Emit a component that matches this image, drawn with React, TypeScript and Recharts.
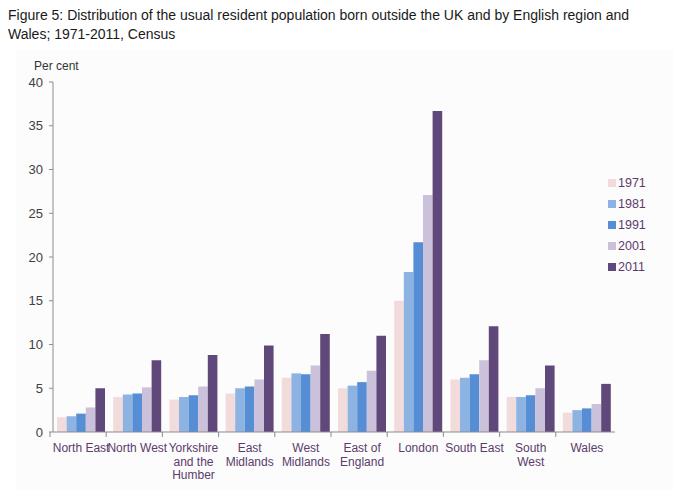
import { BarChart, Bar, XAxis, YAxis, Legend } from "recharts";

const regions = [
  "North East",
  "North West",
  "Yorkshire and the Humber",
  "East Midlands",
  "West Midlands",
  "East of England",
  "London",
  "South East",
  "South West",
  "Wales",
];

// label lines as printed under the axis
const regionLines: string[][] = [
  ["North East"],
  ["North West"],
  ["Yorkshire", "and the", "Humber"],
  ["East", "Midlands"],
  ["West", "Midlands"],
  ["East of", "England"],
  ["London"],
  ["South East"],
  ["South", "West"],
  ["Wales"],
];

const y1971 = [1.7, 4.0, 3.7, 4.4, 6.2, 5.0, 15.0, 6.0, 4.0, 2.2];
const y1981 = [1.8, 4.3, 4.0, 5.0, 6.7, 5.3, 18.3, 6.2, 4.0, 2.5];
const y1991 = [2.1, 4.4, 4.2, 5.2, 6.6, 5.7, 21.7, 6.6, 4.2, 2.7];
const y2001 = [2.8, 5.1, 5.2, 6.0, 7.6, 7.0, 27.1, 8.2, 5.0, 3.2];
const y2011 = [5.0, 8.2, 8.8, 9.9, 11.2, 11.0, 36.7, 12.1, 7.6, 5.5];

const yTicks = [0, 5, 10, 15, 20, 25, 30, 35, 40];

const series = [
  { key: "1971", color: "#f2dcdb" },
  { key: "1981", color: "#8db3e2" },
  { key: "1991", color: "#558ed5" },
  { key: "2001", color: "#ccc1da" },
  { key: "2011", color: "#60497a" },
];

const data = regions.map((r, i) => ({
  region: r,
  "1971": y1971[i],
  "1981": y1981[i],
  "1991": y1991[i],
  "2001": y2001[i],
  "2011": y2011[i],
}));

const FONT = "'Liberation Sans', Arial, sans-serif";
const LABEL_COLOR = "#5b3b6b";
const AXIS_COLOR = "#8c8c8c";
const PLOT_LEFT = 53;
const PLOT_RIGHT = 675;
const BAND = (PLOT_RIGHT - PLOT_LEFT) / regions.length;

function RegionTick(props: any) {
  const { x, y, payload, index } = props;
  const lines = regionLines[index] ?? [String(payload.value)];
  const left = x - BAND / 2;
  return (
    <g>
      <line x1={left} y1={y} x2={left} y2={y + 5} stroke={AXIS_COLOR} />
      <text
        x={x}
        y={y + 20}
        textAnchor="middle"
        fill={LABEL_COLOR}
        fontSize={12}
        fontFamily={FONT}
      >
        {lines.map((l, k) => (
          <tspan key={k} x={x} dy={k === 0 ? 0 : 13.5}>
            {l}
          </tspan>
        ))}
      </text>
    </g>
  );
}

function LegendBox() {
  return (
    <div style={{ fontFamily: FONT, fontSize: 12.5, color: LABEL_COLOR }}>
      {series.map((s) => (
        <div
          key={s.key}
          style={{ display: "flex", alignItems: "center", height: 20.8 }}
        >
          <span
            style={{
              display: "inline-block",
              width: 8,
              height: 8,
              background: s.color,
              marginRight: 2,
            }}
          />
          {s.key}
        </div>
      ))}
    </div>
  );
}

export default function App() {
  return (
    <div
      style={{
        position: "absolute",
        left: 0,
        top: 0,
        width: 675,
        height: 500,
        background: "#ffffff",
        fontFamily: FONT,
        overflow: "hidden",
      }}
    >
      <div
        style={{
          position: "absolute",
          left: 16,
          top: 50,
          width: 657,
          height: 440,
          background: "#fcfcfc",
        }}
      />
      <div
        style={{
          position: "absolute",
          left: 8,
          top: 6,
          width: 660,
          fontSize: 14,
          lineHeight: "19px",
          color: "#1a1a1a",
        }}
      >
        Figure 5: Distribution of the usual resident population born outside the UK and by English region and
        Wales; 1971-2011, Census
      </div>
      <div
        style={{
          position: "absolute",
          left: 34,
          top: 59,
          fontSize: 12,
          color: "#333333",
        }}
      >
        Per cent
      </div>
      <div style={{ position: "absolute", left: 0, top: 0 }}>
        <BarChart
          width={675}
          height={500}
          data={data}
          margin={{ top: 82, right: 0, bottom: 0, left: 0 }}
          barGap={0}
          barSize={9.6}
        >
          <XAxis
            dataKey="region"
            axisLine={{ stroke: AXIS_COLOR }}
            tickLine={false}
            tickSize={0}
            tickMargin={0}
            height={68}
            interval={0}
            tick={<RegionTick />}
          />
          <YAxis
            width={PLOT_LEFT}
            domain={[0, 40]}
            ticks={yTicks}
            interval={0}
            axisLine={{ stroke: AXIS_COLOR }}
            tickLine={{ stroke: AXIS_COLOR }}
            tickSize={4}
            tickMargin={6}
            tick={{ fill: "#404040", fontSize: 13, fontFamily: FONT }}
          />
          <Legend
            layout="vertical"
            align="right"
            verticalAlign="top"
            content={<LegendBox />}
            wrapperStyle={{ left: 608, top: 173, width: 60 }}
          />
          {series.map((s) => (
            <Bar
              key={s.key}
              dataKey={s.key}
              fill={s.color}
              isAnimationActive={false}
            />
          ))}
        </BarChart>
      </div>
    </div>
  );
}
